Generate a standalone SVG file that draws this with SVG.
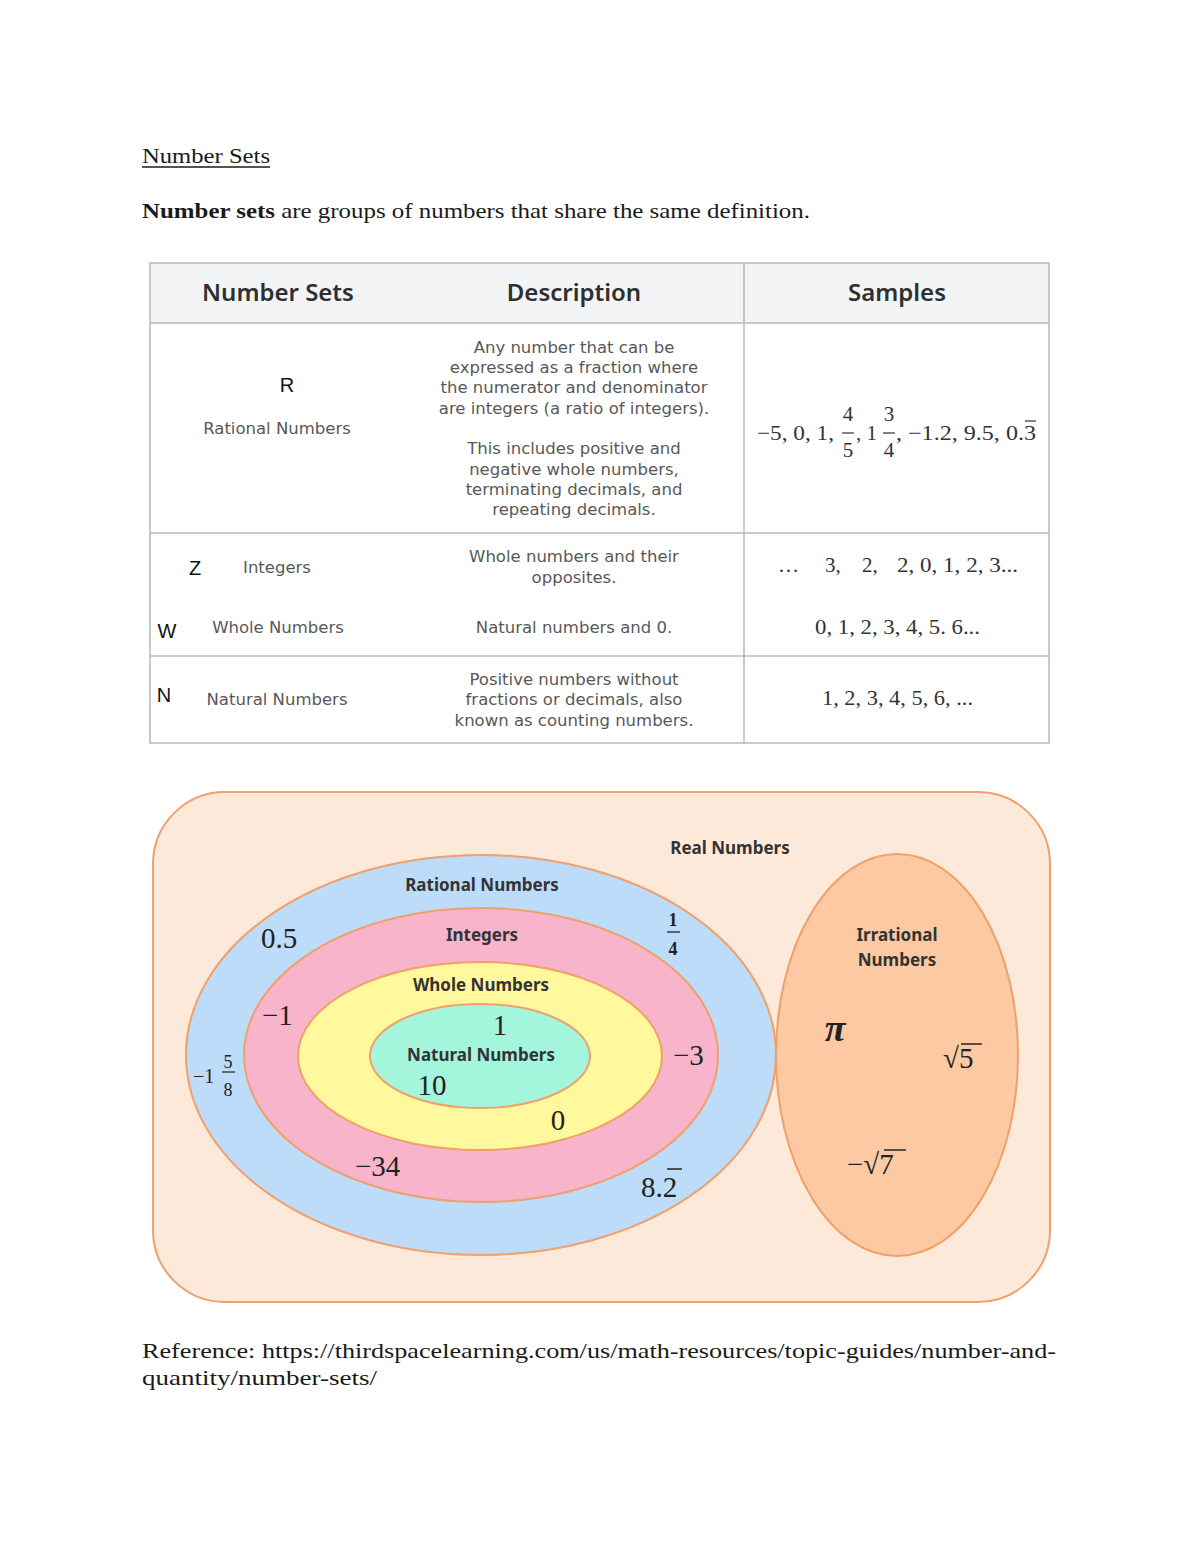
<svg xmlns="http://www.w3.org/2000/svg" width="1200" height="1553" viewBox="0 0 1200 1553">
<style>
.doc{font-family:"Liberation Serif","DejaVu Serif",serif;font-size:21px;fill:#1a1a1a}
.hd{font-family:"Noto Sans","Open Sans",sans-serif;font-size:24px;font-weight:600;fill:#2f2f2f;text-anchor:middle}
.bd{font-family:"DejaVu Sans","Noto Sans",sans-serif;font-size:16.5px;fill:#585858;text-anchor:middle}
.sym{font-family:"Liberation Sans","DejaVu Sans",sans-serif;font-size:20px;fill:#111;text-anchor:middle}
.sm{font-family:"Liberation Serif","DejaVu Serif",serif;font-size:21px;fill:#333}
.vl{font-family:"Noto Sans","Open Sans",sans-serif;font-size:17px;font-weight:700;fill:#333;text-anchor:middle}
.mt{font-family:"Liberation Serif","DejaVu Serif",serif;font-size:29px;fill:#222}
.fr{font-family:"Liberation Serif","DejaVu Serif",serif;font-size:18px;fill:#222;text-anchor:middle}
.ring{stroke:#f0a06a;stroke-width:2}
.grid{stroke:#b8b8b8;stroke-width:1.5;fill:none}
</style>

<g id="title">
<text class="doc" x="142" y="163" textLength="128" lengthAdjust="spacingAndGlyphs">Number Sets</text>
<line x1="142" y1="167" x2="270" y2="167" stroke="#1a1a1a" stroke-width="1.5"/>
<text class="doc" x="142" y="218" textLength="668" lengthAdjust="spacingAndGlyphs"><tspan font-weight="bold">Number sets</tspan> are groups of numbers that share the same definition.</text>
</g>

<g id="table">
<rect x="150" y="263" width="899" height="60" fill="#f3f4f6"/>
<rect class="grid" x="150" y="263" width="899" height="480"/>
<line class="grid" x1="150" y1="323" x2="1049" y2="323"/>
<line class="grid" x1="150" y1="533" x2="1049" y2="533"/>
<line class="grid" x1="150" y1="656" x2="1049" y2="656"/>
<line class="grid" x1="744" y1="263" x2="744" y2="743"/>
<text class="hd" x="278" y="301">Number Sets</text>
<text class="hd" x="574" y="301">Description</text>
<text class="hd" x="897" y="301">Samples</text>

<g id="row-rational">
<text class="sym" x="287" y="392">R</text>
<text class="bd" x="277" y="434">Rational Numbers</text>
<text class="bd" x="574" y="353">Any number that can be</text>
<text class="bd" x="574" y="373">expressed as a fraction where</text>
<text class="bd" x="574" y="393">the numerator and denominator</text>
<text class="bd" x="574" y="414">are integers (a ratio of integers).</text>
<text class="bd" x="574" y="454">This includes positive and</text>
<text class="bd" x="574" y="475">negative whole numbers,</text>
<text class="bd" x="574" y="495">terminating decimals, and</text>
<text class="bd" x="574" y="515">repeating decimals.</text>
<text class="sm" x="757" y="440" textLength="77" lengthAdjust="spacingAndGlyphs">−5, 0, 1,</text>
<text class="sm" x="848" y="421" text-anchor="middle">4</text>
<line x1="842" y1="433" x2="854" y2="433" stroke="#333" stroke-width="1.2"/>
<text class="sm" x="848" y="457" text-anchor="middle">5</text>
<text class="sm" x="856" y="440">, 1</text>
<text class="sm" x="889" y="421" text-anchor="middle">3</text>
<line x1="883" y1="433" x2="895" y2="433" stroke="#333" stroke-width="1.2"/>
<text class="sm" x="889" y="457" text-anchor="middle">4</text>
<text class="sm" x="896" y="440" textLength="140" lengthAdjust="spacingAndGlyphs">, −1.2, 9.5, 0.3</text>
<line x1="1025" y1="421" x2="1036" y2="421" stroke="#333" stroke-width="1.2"/>
</g>

<g id="row-integers">
<text class="sym" x="195" y="575">Z</text>
<text class="bd" x="277" y="573">Integers</text>
<text class="bd" x="574" y="562">Whole numbers and their</text>
<text class="bd" x="574" y="583">opposites.</text>
<text class="sm" x="778" y="572">…</text>
<text class="sm" x="825" y="572">3,</text>
<text class="sm" x="862" y="572">2,</text>
<text class="sm" x="897" y="572" textLength="121" lengthAdjust="spacingAndGlyphs">2, 0, 1, 2, 3...</text>
</g>

<g id="row-whole">
<text class="sym" x="167" y="638">W</text>
<text class="bd" x="278" y="633">Whole Numbers</text>
<text class="bd" x="574" y="633">Natural numbers and 0.</text>
<text class="sm" x="815" y="634" textLength="165" lengthAdjust="spacingAndGlyphs">0, 1, 2, 3, 4, 5. 6...</text>
</g>

<g id="row-natural">
<text class="sym" x="164" y="702">N</text>
<text class="bd" x="277" y="705">Natural Numbers</text>
<text class="bd" x="574" y="685">Positive numbers without</text>
<text class="bd" x="574" y="705">fractions or decimals, also</text>
<text class="bd" x="574" y="726">known as counting numbers.</text>
<text class="sm" x="822" y="705" textLength="151" lengthAdjust="spacingAndGlyphs">1, 2, 3, 4, 5, 6, ...</text>
</g>
</g>

<g id="venn">
<g id="real">
<rect class="ring" x="153" y="792" width="897" height="510" rx="72" fill="#fde9da"/>
<text class="vl" x="730" y="854">Real Numbers</text>
</g>
<g id="rational">
<ellipse class="ring" cx="481" cy="1055" rx="295" ry="200" fill="#bddcfa"/>
<text class="vl" x="482" y="891">Rational Numbers</text>
</g>
<g id="integers">
<ellipse class="ring" cx="481" cy="1055" rx="237" ry="147" fill="#f8b4cb"/>
<text class="vl" x="482" y="941">Integers</text>
</g>
<g id="whole">
<ellipse class="ring" cx="480" cy="1056" rx="182" ry="94" fill="#fff89c"/>
<text class="vl" x="481" y="991">Whole Numbers</text>
</g>
<g id="natural">
<ellipse class="ring" cx="480" cy="1056" rx="110" ry="52" fill="#a3f5dc"/>
<text class="vl" x="481" y="1061">Natural Numbers</text>
</g>
<g id="irrational">
<ellipse class="ring" cx="897" cy="1055" rx="121" ry="201" fill="#fdc9a2"/>
<text class="vl" x="897" y="941">Irrational</text>
<text class="vl" x="897" y="966">Numbers</text>
</g>

<g id="samples">
<text class="mt" x="261" y="948">0.5</text>
<text class="mt" x="262" y="1025">−1</text>
<text class="fr" x="193" y="1083" style="text-anchor:start;font-size:20px">−1</text>
<text class="fr" x="228" y="1068">5</text>
<line x1="222" y1="1072" x2="235" y2="1072" stroke="#222" stroke-width="1.2"/>
<text class="fr" x="228" y="1096">8</text>
<text class="fr" x="673" y="926" font-weight="bold">1</text>
<line x1="667" y1="932" x2="680" y2="932" stroke="#222" stroke-width="1.3"/>
<text class="fr" x="673" y="955" font-weight="bold">4</text>
<text class="mt" x="673" y="1065">−3</text>
<text class="mt" x="500" y="1035" text-anchor="middle">1</text>
<text class="mt" x="432" y="1095" text-anchor="middle">10</text>
<text class="mt" x="558" y="1130" text-anchor="middle">0</text>
<text class="mt" x="355" y="1176">−34</text>
<text class="mt" x="641" y="1197">8.2</text>
<line x1="667" y1="1169" x2="682" y2="1169" stroke="#222" stroke-width="1.5"/>
<text class="mt" x="835" y="1041" text-anchor="middle" font-weight="bold" font-style="italic" style="font-size:38px">π</text>
<text class="mt" x="943" y="1068">√5</text>
<line x1="961" y1="1044" x2="982" y2="1044" stroke="#222" stroke-width="1.5"/>
<text class="mt" x="847" y="1174">−√7</text>
<line x1="884" y1="1150" x2="906" y2="1150" stroke="#222" stroke-width="1.5"/>
</g>
</g>

<g id="reference">
<text class="doc" x="142" y="1358" textLength="914" lengthAdjust="spacingAndGlyphs">Reference: https://thirdspacelearning.com/us/math-resources/topic-guides/number-and-</text>
<text class="doc" x="142" y="1385" textLength="235" lengthAdjust="spacingAndGlyphs">quantity/number-sets/</text>
</g>
</svg>
